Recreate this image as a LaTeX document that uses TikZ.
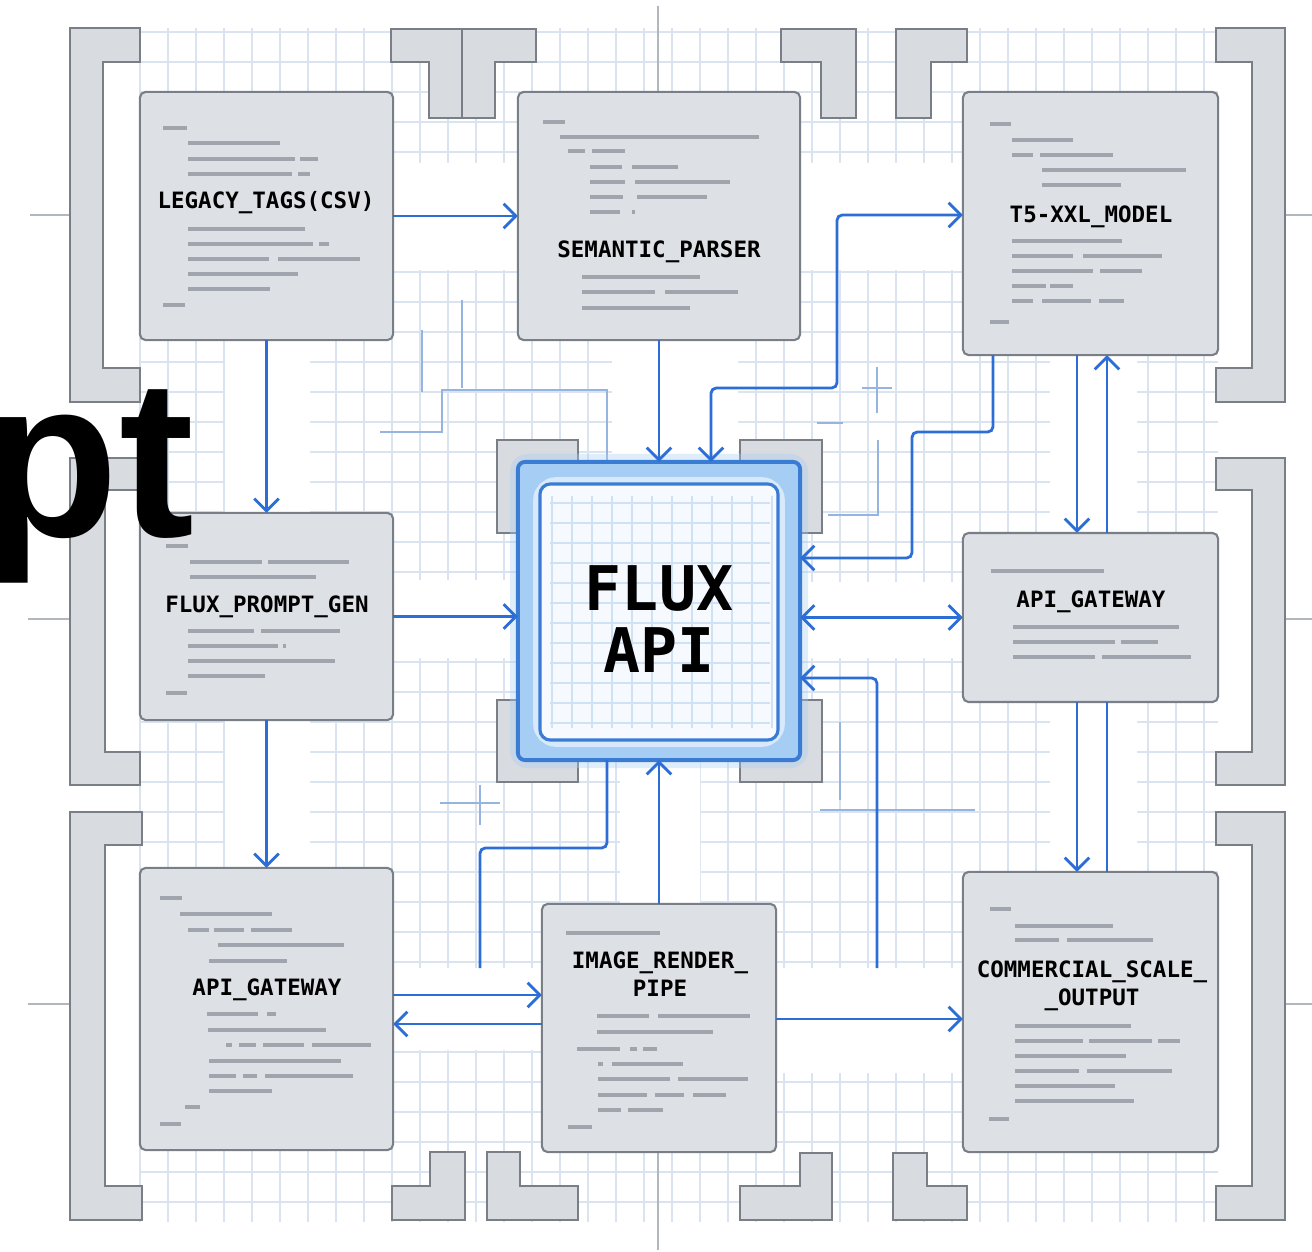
\documentclass[tikz,border=0pt]{standalone}
\usepackage{fontspec}
\newfontfamily\monofont{DejaVu Sans Mono}
\newfontfamily\headfont{Liberation Sans}
\usetikzlibrary{arrows.meta}

\definecolor{gridc}{RGB}{218,228,241}
\definecolor{wirec}{RGB}{44,110,214}
\definecolor{tracec}{RGB}{150,180,224}
\definecolor{boxc}{RGB}{221,224,228}
\definecolor{edgec}{RGB}{122,127,135}
\definecolor{phc}{RGB}{160,165,173}
\definecolor{brc}{RGB}{216,219,224}
\definecolor{thinc}{RGB}{178,183,190}
\definecolor{fluxrim}{RGB}{166,206,244}
\definecolor{fluxline}{RGB}{58,124,212}
\definecolor{fluxin}{RGB}{246,250,255}
\definecolor{fluxgrid}{RGB}{206,225,245}

\begin{document}
\begin{tikzpicture}[x=0.01cm, y=-0.01cm,
    every node/.style={inner sep=0pt, outer sep=0pt},
    block/.style={rectangle, rounded corners=1.6pt, draw=edgec, line width=0.6pt, fill=boxc},
    lbl/.style={font=\monofont\bfseries\fontsize{6.4}{7.9}\selectfont, align=center},
    ph/.style={phc, line width=1.1pt},
    bracket/.style={draw=edgec, line width=0.5pt, fill=brc},
    wire/.style={wirec, line width=0.8pt, rounded corners=1.5pt},
    trace/.style={tracec, line width=0.5pt},
    gridl/.style={gridc, line width=0.4pt},
    >={Straight Barb[length=3.5pt,width=7pt]}]

    \useasboundingbox (0,0) rectangle (1312,1252);

    % background grid
    \foreach \x in {140,168,...,1218}
        \draw[gridl] (\x,28) -- (\x,1222);
    \foreach \y in {32,62,...,1222}
        \draw[gridl] (140,\y) -- (1218,\y);

    % white channels for the wires
    \fill[white] (393,163) rectangle (518,270) (800,163) rectangle (963,270)
        (393,580) rectangle (518,658) (800,582) rectangle (963,658)
        (393,968) rectangle (542,1050) (776,968) rectangle (963,1073)
        (225,340) rectangle (310,513) (225,720) rectangle (310,868)
        (612,340) rectangle (738,462) (620,760) rectangle (700,904)
        (1050,355) rectangle (1137,533) (1050,702) rectangle (1137,872);

    % thin guide lines
    \draw[thinc, line width=0.4pt] (30,215) -- (70,215) (28,619) -- (70,619) (28,1004) -- (70,1004)
        (1285,215) -- (1312,215) (1285,619) -- (1312,619) (1285,1004) -- (1312,1004)
        (658,6) -- (658,92) (658,1152) -- (658,1250);

    % faint traces
    \draw[trace] (380,432) -- (442,432) -- (442,390) -- (607,390) -- (607,462);
    \draw[trace] (422,330) -- (422,392) (462,300) -- (462,388);
    \draw[trace] (828,515) -- (878,515) -- (878,440);
    \draw[trace] (877,367) -- (877,413) (862,388) -- (892,388) (817,423) -- (843,423);
    \draw[trace] (820,810) -- (975,810) (840,722) -- (840,800);
    \draw[trace] (440,803) -- (500,803) (480,785) -- (480,825);

    % brackets, top row
    \draw[bracket] (70,28) -- (140,28) -- (140,62) -- (103,62) -- (103,368) -- (140,368) -- (140,402) -- (70,402) -- cycle;
    \draw[bracket] (391,29) -- (536,29) -- (536,62) -- (495,62) -- (495,118) -- (429,118) -- (429,62) -- (391,62) -- cycle;
    \draw[edgec, line width=0.5pt] (462,29) -- (462,118);
    \draw[bracket] (781,29) -- (856,29) -- (856,118) -- (821,118) -- (821,62) -- (781,62) -- cycle;
    \draw[bracket] (896,29) -- (967,29) -- (967,62) -- (931,62) -- (931,118) -- (896,118) -- cycle;
    \draw[bracket] (1285,28) -- (1216,28) -- (1216,62) -- (1252,62) -- (1252,368) -- (1216,368) -- (1216,402) -- (1285,402) -- cycle;

    % brackets, middle row
    \draw[bracket] (70,458) -- (140,458) -- (140,490) -- (105,490) -- (105,752) -- (140,752) -- (140,785) -- (70,785) -- cycle;
    \draw[bracket] (1285,458) -- (1216,458) -- (1216,490) -- (1252,490) -- (1252,752) -- (1216,752) -- (1216,785) -- (1285,785) -- cycle;
    \draw[bracket] (497,440) rectangle (578,533) (740,440) rectangle (822,533)
        (497,700) rectangle (578,782) (740,700) rectangle (822,782);

    % brackets, bottom row
    \draw[bracket] (70,812) -- (142,812) -- (142,845) -- (105,845) -- (105,1186) -- (142,1186) -- (142,1220) -- (70,1220) -- cycle;
    \draw[bracket] (392,1186) -- (430,1186) -- (430,1152) -- (465,1152) -- (465,1220) -- (392,1220) -- cycle;
    \draw[bracket] (487,1152) -- (520,1152) -- (520,1186) -- (578,1186) -- (578,1220) -- (487,1220) -- cycle;
    \draw[bracket] (740,1186) -- (800,1186) -- (800,1153) -- (832,1153) -- (832,1220) -- (740,1220) -- cycle;
    \draw[bracket] (893,1153) -- (927,1153) -- (927,1186) -- (967,1186) -- (967,1220) -- (893,1220) -- cycle;
    \draw[bracket] (1285,812) -- (1216,812) -- (1216,845) -- (1252,845) -- (1252,1186) -- (1216,1186) -- (1216,1220) -- (1285,1220) -- cycle;

    % blocks
    \node[block, minimum width=2.53cm, minimum height=2.48cm] (legacy) at (266.5,216) {};
    \node[block, minimum width=2.82cm, minimum height=2.48cm] (semantic) at (659,216) {};
    \node[block, minimum width=2.55cm, minimum height=2.63cm] (tsxxl) at (1090.5,223.5) {};
    \node[block, minimum width=2.53cm, minimum height=2.07cm] (promptgen) at (266.5,616.5) {};
    \node[block, minimum width=2.55cm, minimum height=1.69cm] (gwright) at (1090.5,617.5) {};
    \node[block, minimum width=2.53cm, minimum height=2.82cm] (gwleft) at (266.5,1009) {};
    \node[block, minimum width=2.34cm, minimum height=2.48cm] (render) at (659,1028) {};
    \node[block, minimum width=2.55cm, minimum height=2.80cm] (output) at (1090.5,1012) {};

    % legacy text lines
    \draw[ph] (163,128) -- (187,128) (188,143) -- (280,143) (188,159) -- (295,159) (300,159) -- (318,159)
        (188,174) -- (292,174) (298,174) -- (310,174) (188,229) -- (305,229) (188,244) -- (313,244)
        (319,244) -- (329,244) (188,259) -- (269,259) (278,259) -- (360,259) (188,274) -- (298,274)
        (188,289) -- (270,289) (163,305) -- (185,305);
    % semantic text lines
    \draw[ph] (543,122) -- (565,122) (560,137) -- (759,137) (568,151) -- (585,151) (592,151) -- (625,151)
        (590,167) -- (622,167) (632,167) -- (678,167) (590,182) -- (625,182) (635,182) -- (730,182)
        (590,197) -- (623,197) (637,197) -- (707,197) (590,212) -- (620,212) (632,212) -- (635,212)
        (582,277) -- (700,277) (582,292) -- (655,292) (665,292) -- (738,292) (582,308) -- (690,308);
    % t5 text lines
    \draw[ph] (990,124) -- (1011,124) (1012,140) -- (1073,140) (1012,155) -- (1033,155) (1040,155) -- (1113,155)
        (1042,170) -- (1186,170) (1042,185) -- (1121,185) (1012,241) -- (1122,241) (1012,256) -- (1073,256)
        (1083,256) -- (1162,256) (1012,271) -- (1093,271) (1100,271) -- (1142,271) (1012,286) -- (1046,286)
        (1050,286) -- (1073,286) (1012,301) -- (1033,301) (1042,301) -- (1091,301) (1099,301) -- (1124,301)
        (990,322) -- (1009,322);
    % prompt gen text lines
    \draw[ph] (166,546) -- (188,546) (190,562) -- (262,562) (268,562) -- (349,562) (190,577) -- (316,577)
        (188,631) -- (254,631) (261,631) -- (340,631) (188,646) -- (278,646) (283,646) -- (286,646)
        (188,661) -- (335,661) (188,676) -- (265,676) (166,693) -- (187,693);
    % gateway right text lines
    \draw[ph] (991,571) -- (1104,571) (1013,627) -- (1179,627) (1013,642) -- (1115,642) (1121,642) -- (1158,642)
        (1013,657) -- (1095,657) (1102,657) -- (1191,657);
    % gateway left text lines
    \draw[ph] (160,898) -- (182,898) (180,914) -- (272,914) (188,930) -- (209,930) (214,930) -- (244,930)
        (251,930) -- (292,930) (218,945) -- (344,945) (209,961) -- (287,961) (207,1014) -- (258,1014)
        (267,1014) -- (276,1014) (208,1030) -- (326,1030) (226,1045) -- (232,1045) (239,1045) -- (256,1045)
        (263,1045) -- (304,1045) (312,1045) -- (371,1045) (209,1061) -- (341,1061) (209,1076) -- (236,1076)
        (243,1076) -- (257,1076) (265,1076) -- (353,1076) (209,1091) -- (272,1091) (185,1107) -- (200,1107)
        (160,1124) -- (181,1124);
    % render text lines
    \draw[ph] (566,933) -- (660,933) (597,1016) -- (649,1016) (658,1016) -- (750,1016) (597,1032) -- (713,1032)
        (577,1049) -- (620,1049) (630,1049) -- (637,1049) (643,1049) -- (657,1049) (598,1064) -- (603,1064)
        (612,1064) -- (683,1064) (598,1079) -- (670,1079) (678,1079) -- (748,1079) (598,1095) -- (647,1095)
        (655,1095) -- (684,1095) (693,1095) -- (726,1095) (598,1110) -- (621,1110) (628,1110) -- (663,1110)
        (568,1127) -- (592,1127);
    % output text lines
    \draw[ph] (990,909) -- (1011,909) (1015,926) -- (1113,926) (1015,940) -- (1059,940) (1067,940) -- (1153,940)
        (1015,1026) -- (1131,1026) (1015,1041) -- (1083,1041) (1089,1041) -- (1152,1041) (1158,1041) -- (1180,1041)
        (1015,1056) -- (1126,1056) (1015,1071) -- (1079,1071) (1087,1071) -- (1172,1071) (1015,1086) -- (1115,1086)
        (1015,1101) -- (1134,1101) (989,1119) -- (1009,1119);

    % labels
    \node[lbl, anchor=base] (legacy-lbl) at (266,209) {LEGACY\_TAGS(CSV)};
    \node[lbl, anchor=base] (semantic-lbl) at (659,258) {SEMANTIC\_PARSER};
    \node[lbl, anchor=base] (tsxxl-lbl) at (1091,223) {T5-XXL\_MODEL};
    \node[lbl, anchor=base] (promptgen-lbl) at (267,613) {FLUX\_PROMPT\_GEN};
    \node[lbl, anchor=base] (gwright-lbl) at (1091,607) {API\_GATEWAY};
    \node[lbl, anchor=base] (gwleft-lbl) at (267,995) {API\_GATEWAY};
    \node[lbl] (render-lbl) at (660,974) {IMAGE\_RENDER\_\\PIPE};
    \node[lbl] (output-lbl) at (1092,986) {COMMERCIAL\_SCALE\_\\\_OUTPUT};

    % flux api core
    \fill[fluxrim, opacity=0.35, rounded corners=5pt] (510,454) rectangle (808,768);
    \node[rectangle, rounded corners=2pt, draw=fluxline, line width=1.1pt, fill=fluxrim,
        minimum width=2.82cm, minimum height=2.98cm] (flux) at (659,611) {};
    \draw[white!55!fluxrim, line width=5pt, rounded corners=4pt] (542,486) rectangle (776,738);
    \node[rectangle, rounded corners=3pt, draw=fluxline, line width=0.9pt, fill=fluxin,
        minimum width=2.38cm, minimum height=2.56cm] (fluxcore) at (659,612) {};
    \foreach \x in {552,572,...,772}
        \draw[fluxgrid, line width=0.4pt] (\x,496) -- (\x,728);
    \foreach \y in {503,523,...,723}
        \draw[fluxgrid, line width=0.4pt] (550,\y) -- (770,\y);
    \node[font=\monofont\bfseries\fontsize{17.5}{17.6}\selectfont, align=center] (flux-lbl) at (659,619) {FLUX\\API};

    % wires
    \coordinate (k1) at (711,388);
    \coordinate (k2) at (837,215);
    \coordinate (c1) at (993,432);
    \coordinate (c2) at (912,558);
    \coordinate (d1) at (1077,0);
    \coordinate (d2) at (1107,0);
    \coordinate (e1) at (877,968);
    \coordinate (e2) at (877,678);
    \coordinate (f1) at (480,968);
    \coordinate (f2) at (607,848);
    \coordinate (g1) at (0,995);
    \coordinate (g2) at (0,1024);
    \coordinate (h1) at (0,1019);

    \draw[wire, ->] (legacy.east) -- (semantic.west);
    \draw[wire, ->] (legacy.south) -- (promptgen.north);
    \draw[wire, ->] (semantic.south) -- (flux.north);
    \draw[wire, <->] (flux.north -| k1) -- (k1) -| (k2) -- (tsxxl.west |- k2);
    \draw[wire, ->] (tsxxl.south -| c1) -- (c1) -| (c2) -- (flux.east |- c2);
    \draw[wire, ->] (tsxxl.south -| d1) -- (gwright.north -| d1);
    \draw[wire, ->] (gwright.north -| d2) -- (tsxxl.south -| d2);
    \draw[wire, <->] (flux.east |- gwright.west) -- (gwright.west);
    \draw[wire, ->] (gwright.south -| d1) -- (output.north -| d1);
    \draw[wire] (gwright.south -| d2) -- (output.north -| d2);
    \draw[wire, ->] (promptgen.east) -- (flux.west |- promptgen.east);
    \draw[wire, ->] (promptgen.south) -- (gwleft.north);
    \draw[wire, ->] (e1) -- (e2) -- (flux.east |- e2);
    \draw[wire] (f1) |- (f2) -- (flux.south -| f2);
    \draw[wire, ->] (render.north) -- (flux.south);
    \draw[wire, ->] (gwleft.east |- g1) -- (render.west |- g1);
    \draw[wire, ->] (render.west |- g2) -- (gwleft.east |- g2);
    \draw[wire, ->] (render.east |- h1) -- (output.west |- h1);

    % big heading fragment
    \node[font=\headfont\bfseries\fontsize{64}{64}\selectfont, anchor=base east] (heading) at (194,537) {pt};

\end{tikzpicture}
\end{document}
